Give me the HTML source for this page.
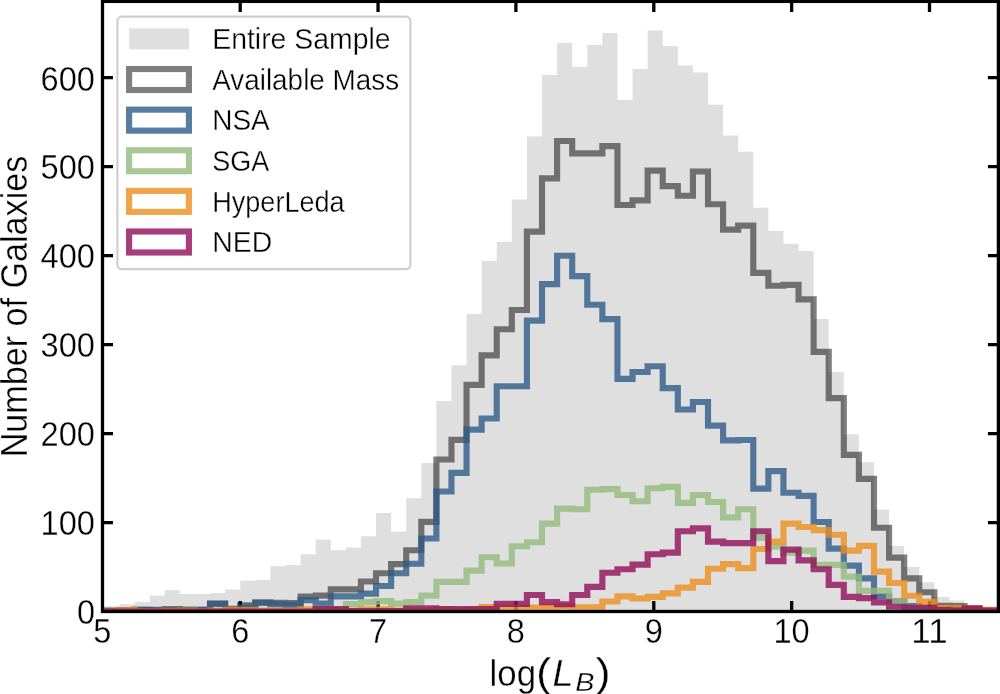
<!DOCTYPE html>
<html><head><meta charset="utf-8"><title>Number of Galaxies vs log(L_B)</title>
<style>html,body{margin:0;padding:0;background:#fff;overflow:hidden}svg{display:block}text{font-family:"Liberation Sans",sans-serif;fill:#000;stroke:#fff;stroke-width:0.35px}</style></head><body>
<svg width="1000" height="694" viewBox="0 0 1000 694">
<rect x="0" y="0" width="1000" height="694" fill="#fff"/>
<defs><clipPath id="ax"><rect x="102.5" y="1.4" width="895.9" height="610.1"/></clipPath></defs>
<g clip-path="url(#ax)">
<path d="M104.40,611.50 L104.40,606.16 L119.49,606.16 L119.49,604.20 L134.58,604.20 L134.58,601.98 L149.67,601.98 L149.67,595.57 L164.76,595.57 L164.76,590.15 L179.85,590.15 L179.85,593.97 L194.94,593.97 L210.03,593.97 L210.03,592.99 L225.12,592.99 L225.12,589.44 L240.21,589.44 L240.21,580.63 L255.30,580.63 L255.30,580.00 L270.39,580.00 L270.39,566.13 L285.48,566.13 L285.48,564.97 L300.57,564.97 L300.57,554.29 L315.66,554.29 L315.66,539.52 L330.75,539.52 L330.75,550.20 L345.84,550.20 L345.84,547.62 L360.93,547.62 L360.93,536.14 L376.02,536.14 L376.02,512.92 L391.11,512.92 L391.11,531.43 L406.20,531.43 L406.20,498.15 L421.29,498.15 L421.29,463.10 L436.38,463.10 L436.38,400.91 L451.47,400.91 L451.47,365.23 L466.56,365.23 L466.56,313.98 L481.65,313.98 L481.65,260.96 L496.74,260.96 L496.74,241.83 L511.83,241.83 L511.83,199.57 L526.92,199.57 L526.92,136.40 L542.01,136.40 L542.01,75.01 L557.10,75.01 L557.10,42.98 L572.19,42.98 L572.19,67.00 L587.28,67.00 L587.28,45.03 L602.37,45.03 L602.37,33.02 L617.46,33.02 L617.46,99.92 L632.55,99.92 L632.55,69.05 L647.64,69.05 L647.64,30.44 L662.73,30.44 L662.73,46.01 L677.82,46.01 L677.82,65.40 L692.91,65.40 L692.91,72.43 L708.00,72.43 L708.00,104.64 L723.09,104.64 L723.09,135.60 L738.18,135.60 L738.18,151.79 L753.27,151.79 L753.27,207.75 L768.36,207.75 L768.36,230.98 L783.45,230.98 L783.45,243.79 L798.54,243.79 L798.54,251.08 L813.63,251.08 L813.63,319.06 L828.72,319.06 L828.72,371.99 L843.81,371.99 L843.81,434.36 L858.90,434.36 L858.90,462.21 L873.99,462.21 L873.99,509.54 L889.08,509.54 L889.08,545.75 L904.17,545.75 L904.17,567.10 L919.26,567.10 L919.26,582.14 L934.35,582.14 L934.35,597.09 L949.44,597.09 L949.44,600.56 L964.53,600.56 L964.53,605.18 L979.62,605.18 L979.62,608.83 L994.71,608.83 L994.71,609.72 L1009.80,609.72 L1009.80,611.50 Z" fill="#dfdfdf" stroke="none"/>
</g>
<path d="M240.20,611.5 v-10.5 M240.20,1.4 v10.5 M378.05,611.5 v-10.5 M378.05,1.4 v10.5 M515.90,611.5 v-10.5 M515.90,1.4 v10.5 M653.80,611.5 v-10.5 M653.80,1.4 v10.5 M791.65,611.5 v-10.5 M791.65,1.4 v10.5 M929.50,611.5 v-10.5 M929.50,1.4 v10.5 M102.5,522.53 h10.5 M998.4,522.53 h-10.5 M102.5,433.56 h10.5 M998.4,433.56 h-10.5 M102.5,344.59 h10.5 M998.4,344.59 h-10.5 M102.5,255.62 h10.5 M998.4,255.62 h-10.5 M102.5,166.65 h10.5 M998.4,166.65 h-10.5 M102.5,77.68 h10.5 M998.4,77.68 h-10.5" stroke="#000" stroke-width="3.3" fill="none"/>
<g clip-path="url(#ax)" fill="none" stroke-linejoin="miter" stroke-miterlimit="10">
<path d="M104.40,611.50 L104.40,610.61 L119.49,610.61 L119.49,610.17 L134.58,610.17 L134.58,609.72 L149.67,609.72 L164.76,609.72 L164.76,609.01 L179.85,609.01 L179.85,609.72 L194.94,609.72 L210.03,609.72 L210.03,603.49 L225.12,603.49 L225.12,608.83 L240.21,608.83 L240.21,605.27 L255.30,605.27 L255.30,602.60 L270.39,602.60 L270.39,602.78 L285.48,602.78 L285.48,603.14 L300.57,603.14 L300.57,596.46 L315.66,596.46 L315.66,595.66 L330.75,595.66 L330.75,589.35 L345.84,589.35 L360.93,589.35 L360.93,581.52 L376.02,581.52 L376.02,573.24 L391.11,573.24 L391.11,564.17 L406.20,564.17 L406.20,550.20 L421.29,550.20 L421.29,521.82 L436.38,521.82 L436.38,459.45 L451.47,459.45 L451.47,439.88 L466.56,439.88 L466.56,384.89 L481.65,384.89 L481.65,355.36 L496.74,355.36 L496.74,329.20 L511.83,329.20 L511.83,309.98 L526.92,309.98 L526.92,231.69 L542.01,231.69 L542.01,178.39 L557.10,178.39 L557.10,141.03 L572.19,141.03 L572.19,153.30 L587.28,153.30 L602.37,153.30 L602.37,146.19 L617.46,146.19 L617.46,205.00 L632.55,205.00 L632.55,200.37 L647.64,200.37 L647.64,170.56 L662.73,170.56 L662.73,186.13 L677.82,186.13 L677.82,195.74 L692.91,195.74 L692.91,171.54 L708.00,171.54 L708.00,204.28 L723.09,204.28 L723.09,229.64 L738.18,229.64 L738.18,225.55 L753.27,225.55 L753.27,272.88 L768.36,272.88 L768.36,285.78 L783.45,285.78 L783.45,284.80 L798.54,284.80 L798.54,299.30 L813.63,299.30 L813.63,351.80 L828.72,351.80 L828.72,398.15 L843.81,398.15 L843.81,454.91 L858.90,454.91 L858.90,478.93 L873.99,478.93 L873.99,527.78 L889.08,527.78 L889.08,557.67 L904.17,557.67 L904.17,578.40 L919.26,578.40 L919.26,592.28 L934.35,592.28 L934.35,605.89 L949.44,605.89 L949.44,606.16 L964.53,606.16 L964.53,608.83 L979.62,608.83 L979.62,610.61 L994.71,610.61 L1009.80,610.61 L1009.80,611.50" stroke="rgba(0,0,0,0.5)" stroke-width="6.15"/>
<path d="M104.40,611.50 L104.40,611.06 L119.49,611.06 L119.49,610.61 L134.58,610.61 L134.58,609.72 L149.67,609.72 L149.67,610.61 L164.76,610.61 L164.76,610.17 L179.85,610.17 L179.85,609.81 L194.94,609.81 L210.03,609.81 L210.03,603.85 L225.12,603.85 L225.12,609.72 L240.21,609.72 L240.21,607.59 L255.30,607.59 L255.30,602.60 L270.39,602.60 L270.39,604.38 L285.48,604.38 L285.48,604.83 L300.57,604.83 L300.57,600.11 L315.66,600.11 L315.66,603.49 L330.75,603.49 L330.75,596.38 L345.84,596.38 L360.93,596.38 L360.93,593.62 L376.02,593.62 L376.02,585.97 L391.11,585.97 L391.11,573.24 L406.20,573.24 L406.20,563.72 L421.29,563.72 L421.29,538.54 L436.38,538.54 L436.38,491.48 L451.47,491.48 L451.47,472.88 L466.56,472.88 L466.56,429.65 L481.65,429.65 L481.65,418.52 L496.74,418.52 L496.74,386.23 L511.83,386.23 L526.92,386.23 L526.92,320.66 L542.01,320.66 L542.01,284.18 L557.10,284.18 L557.10,255.71 L572.19,255.71 L572.19,276.17 L587.28,276.17 L587.28,304.73 L602.37,304.73 L602.37,319.06 L617.46,319.06 L617.46,378.93 L632.55,378.93 L632.55,371.99 L647.64,371.99 L647.64,366.21 L662.73,366.21 L662.73,388.10 L677.82,388.10 L677.82,409.54 L692.91,409.54 L692.91,401.98 L708.00,401.98 L708.00,425.64 L723.09,425.64 L723.09,440.41 L738.18,440.41 L738.18,439.97 L753.27,439.97 L753.27,488.63 L768.36,488.63 L768.36,471.19 L783.45,471.19 L783.45,492.73 L798.54,492.73 L798.54,495.84 L813.63,495.84 L813.63,522.00 L828.72,522.00 L828.72,548.69 L843.81,548.69 L843.81,565.59 L858.90,565.59 L858.90,578.40 L873.99,578.40 L873.99,596.20 L889.08,596.20 L889.08,601.00 L904.17,601.00 L904.17,606.16 L919.26,606.16 L919.26,608.83 L934.35,608.83 L934.35,609.72 L949.44,609.72 L949.44,610.61 L964.53,610.61 L979.62,610.61 L979.62,611.06 L994.71,611.06 L1009.80,611.06 L1009.80,611.50" stroke="rgba(46,91,136,0.8)" stroke-width="6.15"/>
<path d="M104.40,611.50 L119.49,611.50 L134.58,611.50 L149.67,611.50 L164.76,611.50 L179.85,611.50 L194.94,611.50 L210.03,611.50 L225.12,611.50 L240.21,611.50 L255.30,611.50 L270.39,611.50 L285.48,611.50 L300.57,611.50 L300.57,611.06 L315.66,611.06 L315.66,608.83 L330.75,608.83 L330.75,610.61 L345.84,610.61 L345.84,604.12 L360.93,604.12 L360.93,602.07 L376.02,602.07 L376.02,601.09 L391.11,601.09 L391.11,603.67 L406.20,603.67 L406.20,602.07 L421.29,602.07 L421.29,595.66 L436.38,595.66 L436.38,581.87 L451.47,581.87 L466.56,581.87 L466.56,570.57 L481.65,570.57 L481.65,557.23 L496.74,557.23 L496.74,563.46 L511.83,563.46 L511.83,546.20 L526.92,546.20 L526.92,542.28 L542.01,542.28 L542.01,523.60 L557.10,523.60 L557.10,508.65 L572.19,508.65 L572.19,509.27 L587.28,509.27 L587.28,489.70 L602.37,489.70 L602.37,489.08 L617.46,489.08 L617.46,495.04 L632.55,495.04 L632.55,501.27 L647.64,501.27 L647.64,488.28 L662.73,488.28 L662.73,486.94 L677.82,486.94 L677.82,502.87 L692.91,502.87 L692.91,495.04 L708.00,495.04 L708.00,501.98 L723.09,501.98 L723.09,517.37 L738.18,517.37 L738.18,509.27 L753.27,509.27 L753.27,537.65 L768.36,537.65 L768.36,546.64 L783.45,546.64 L783.45,552.78 L798.54,552.78 L798.54,550.56 L813.63,550.56 L813.63,564.88 L828.72,564.88 L843.81,564.88 L843.81,576.62 L858.90,576.62 L858.90,590.86 L873.99,590.86 L889.08,590.86 L889.08,601.00 L904.17,601.00 L904.17,607.05 L919.26,607.05 L919.26,608.83 L934.35,608.83 L934.35,610.61 L949.44,610.61 L949.44,611.50 L964.53,611.50 L979.62,611.50 L994.71,611.50 L1009.80,611.50" stroke="rgba(146,186,124,0.8)" stroke-width="6.15"/>
<path d="M104.40,611.50 L119.49,611.50 L119.49,610.08 L134.58,610.08 L134.58,611.50 L149.67,611.50 L164.76,611.50 L164.76,610.70 L179.85,610.70 L179.85,610.61 L194.94,610.61 L194.94,611.50 L210.03,611.50 L210.03,610.61 L225.12,610.61 L225.12,609.72 L240.21,609.72 L255.30,609.72 L255.30,610.61 L270.39,610.61 L285.48,610.61 L300.57,610.61 L300.57,609.36 L315.66,609.36 L315.66,610.61 L330.75,610.61 L330.75,609.72 L345.84,609.72 L345.84,610.61 L360.93,610.61 L360.93,609.36 L376.02,609.36 L391.11,609.36 L391.11,610.61 L406.20,610.61 L421.29,610.61 L436.38,610.61 L436.38,609.36 L451.47,609.36 L451.47,610.61 L466.56,610.61 L466.56,609.72 L481.65,609.72 L481.65,607.05 L496.74,607.05 L496.74,607.50 L511.83,607.50 L526.92,607.50 L542.01,607.50 L542.01,607.05 L557.10,607.05 L557.10,606.34 L572.19,606.34 L572.19,607.23 L587.28,607.23 L602.37,607.23 L602.37,601.45 L617.46,601.45 L617.46,596.38 L632.55,596.38 L632.55,598.51 L647.64,598.51 L647.64,596.91 L662.73,596.91 L662.73,593.44 L677.82,593.44 L677.82,587.66 L692.91,587.66 L692.91,581.87 L708.00,581.87 L708.00,568.79 L723.09,568.79 L723.09,564.17 L738.18,564.17 L738.18,568.08 L753.27,568.08 L753.27,548.95 L768.36,548.95 L768.36,541.57 L783.45,541.57 L783.45,523.60 L798.54,523.60 L798.54,526.98 L813.63,526.98 L813.63,530.18 L828.72,530.18 L828.72,534.72 L843.81,534.72 L843.81,550.56 L858.90,550.56 L858.90,545.93 L873.99,545.93 L873.99,571.55 L889.08,571.55 L889.08,583.03 L904.17,583.03 L904.17,595.75 L919.26,595.75 L919.26,601.80 L934.35,601.80 L934.35,607.76 L949.44,607.76 L949.44,607.94 L964.53,607.94 L964.53,608.83 L979.62,608.83 L979.62,609.72 L994.71,609.72 L1009.80,609.72 L1009.80,611.50" stroke="rgba(236,143,30,0.8)" stroke-width="6.15"/>
<path d="M104.40,611.50 L119.49,611.50 L134.58,611.50 L149.67,611.50 L164.76,611.50 L179.85,611.50 L194.94,611.50 L210.03,611.50 L225.12,611.50 L240.21,611.50 L255.30,611.50 L270.39,611.50 L285.48,611.50 L300.57,611.50 L315.66,611.50 L315.66,609.10 L330.75,609.10 L345.84,609.10 L345.84,611.06 L360.93,611.06 L376.02,611.06 L391.11,611.06 L406.20,611.06 L406.20,608.30 L421.29,608.30 L436.38,608.30 L436.38,609.10 L451.47,609.10 L466.56,609.10 L481.65,609.10 L496.74,609.10 L496.74,603.94 L511.83,603.94 L526.92,603.94 L526.92,595.04 L542.01,595.04 L542.01,602.16 L557.10,602.16 L557.10,604.20 L572.19,604.20 L572.19,595.04 L587.28,595.04 L587.28,586.94 L602.37,586.94 L602.37,572.71 L617.46,572.71 L617.46,569.24 L632.55,569.24 L632.55,564.61 L647.64,564.61 L647.64,554.20 L662.73,554.20 L662.73,552.60 L677.82,552.60 L677.82,531.25 L692.91,531.25 L692.91,528.40 L708.00,528.40 L708.00,541.57 L723.09,541.57 L723.09,543.17 L738.18,543.17 L753.27,543.17 L753.27,531.25 L768.36,531.25 L768.36,561.14 L783.45,561.14 L783.45,549.67 L798.54,549.67 L798.54,560.43 L813.63,560.43 L813.63,569.24 L828.72,569.24 L828.72,584.90 L843.81,584.90 L843.81,596.91 L858.90,596.91 L858.90,598.15 L873.99,598.15 L873.99,602.43 L889.08,602.43 L889.08,606.78 L904.17,606.78 L904.17,607.50 L919.26,607.50 L919.26,607.94 L934.35,607.94 L934.35,610.17 L949.44,610.17 L949.44,610.61 L964.53,610.61 L964.53,608.39 L979.62,608.39 L979.62,610.61 L994.71,610.61 L994.71,611.50 L1009.80,611.50" stroke="rgba(143,14,89,0.8)" stroke-width="6.15"/>
</g>
<rect x="102.5" y="1.4" width="895.9" height="610.1" fill="none" stroke="#000" stroke-width="3.3" stroke-linejoin="miter"/>
<text x="102.3" y="643.2" font-size="35.0" text-anchor="middle" textLength="18.1" lengthAdjust="spacingAndGlyphs">5</text>
<text x="240.2" y="643.2" font-size="35.0" text-anchor="middle" textLength="18.1" lengthAdjust="spacingAndGlyphs">6</text>
<text x="378.1" y="643.2" font-size="35.0" text-anchor="middle" textLength="18.1" lengthAdjust="spacingAndGlyphs">7</text>
<text x="515.9" y="643.2" font-size="35.0" text-anchor="middle" textLength="18.1" lengthAdjust="spacingAndGlyphs">8</text>
<text x="653.8" y="643.2" font-size="35.0" text-anchor="middle" textLength="18.1" lengthAdjust="spacingAndGlyphs">9</text>
<text x="791.6" y="643.2" font-size="35.0" text-anchor="middle" textLength="36.3" lengthAdjust="spacingAndGlyphs">10</text>
<text x="929.5" y="643.2" font-size="35.0" text-anchor="middle" textLength="36.3" lengthAdjust="spacingAndGlyphs">11</text>
<text x="95.0" y="624.3" font-size="35.0" text-anchor="end" textLength="18.1" lengthAdjust="spacingAndGlyphs">0</text>
<text x="95.0" y="535.3" font-size="35.0" text-anchor="end" textLength="54.4" lengthAdjust="spacingAndGlyphs">100</text>
<text x="95.0" y="446.4" font-size="35.0" text-anchor="end" textLength="54.4" lengthAdjust="spacingAndGlyphs">200</text>
<text x="95.0" y="357.4" font-size="35.0" text-anchor="end" textLength="54.4" lengthAdjust="spacingAndGlyphs">300</text>
<text x="95.0" y="268.4" font-size="35.0" text-anchor="end" textLength="54.4" lengthAdjust="spacingAndGlyphs">400</text>
<text x="95.0" y="179.4" font-size="35.0" text-anchor="end" textLength="54.4" lengthAdjust="spacingAndGlyphs">500</text>
<text x="95.0" y="90.5" font-size="35.0" text-anchor="end" textLength="54.4" lengthAdjust="spacingAndGlyphs">600</text>
<text x="489.6" y="685.7" font-size="37.8" text-anchor="start" textLength="46.5" lengthAdjust="spacingAndGlyphs">log</text>
<text x="535.9" y="686.5" font-size="41" text-anchor="start" textLength="15.2" lengthAdjust="spacingAndGlyphs">(</text>
<text x="552.6" y="685.7" font-size="37.8" text-anchor="start" textLength="21.0" lengthAdjust="spacingAndGlyphs" font-style="italic">L</text>
<text x="575.2" y="691.2" font-size="26.5" text-anchor="start" textLength="19.2" lengthAdjust="spacingAndGlyphs" font-style="italic">B</text>
<text x="595.6" y="686.5" font-size="41" text-anchor="start" textLength="15.2" lengthAdjust="spacingAndGlyphs">)</text>
<text transform="translate(26.5,457.3) rotate(-90)" font-size="37.8" textLength="301.6" lengthAdjust="spacingAndGlyphs">Number of Galaxies</text>
<rect x="117.4" y="16.6" width="293" height="252.6" rx="4.5" ry="4.5" fill="rgba(255,255,255,0.8)" stroke="#cfcfcf" stroke-width="2.2"/>
<rect x="129.1" y="28.40" width="59.8" height="21" fill="#dfdfdf"/>
<text x="212.2" y="49.20" font-size="29.2" text-anchor="start" textLength="178.5" lengthAdjust="spacingAndGlyphs">Entire Sample</text>
<rect x="129.1" y="69.02" width="59.8" height="21" fill="none" stroke="rgba(0,0,0,0.5)" stroke-width="6.15"/>
<text x="212.2" y="89.82" font-size="29.2" text-anchor="start" textLength="187" lengthAdjust="spacingAndGlyphs">Available Mass</text>
<rect x="129.1" y="109.64" width="59.8" height="21" fill="none" stroke="rgba(46,91,136,0.8)" stroke-width="6.15"/>
<text x="212.2" y="130.44" font-size="29.2" text-anchor="start" textLength="57.5" lengthAdjust="spacingAndGlyphs">NSA</text>
<rect x="129.1" y="150.26" width="59.8" height="21" fill="none" stroke="rgba(146,186,124,0.8)" stroke-width="6.15"/>
<text x="212.2" y="171.06" font-size="29.2" text-anchor="start" textLength="57" lengthAdjust="spacingAndGlyphs">SGA</text>
<rect x="129.1" y="190.88" width="59.8" height="21" fill="none" stroke="rgba(236,143,30,0.8)" stroke-width="6.15"/>
<text x="212.2" y="211.68" font-size="29.2" text-anchor="start" textLength="132.5" lengthAdjust="spacingAndGlyphs">HyperLeda</text>
<rect x="129.1" y="231.50" width="59.8" height="21" fill="none" stroke="rgba(143,14,89,0.8)" stroke-width="6.15"/>
<text x="212.2" y="252.30" font-size="29.2" text-anchor="start" textLength="60" lengthAdjust="spacingAndGlyphs">NED</text>
</svg></body></html>
